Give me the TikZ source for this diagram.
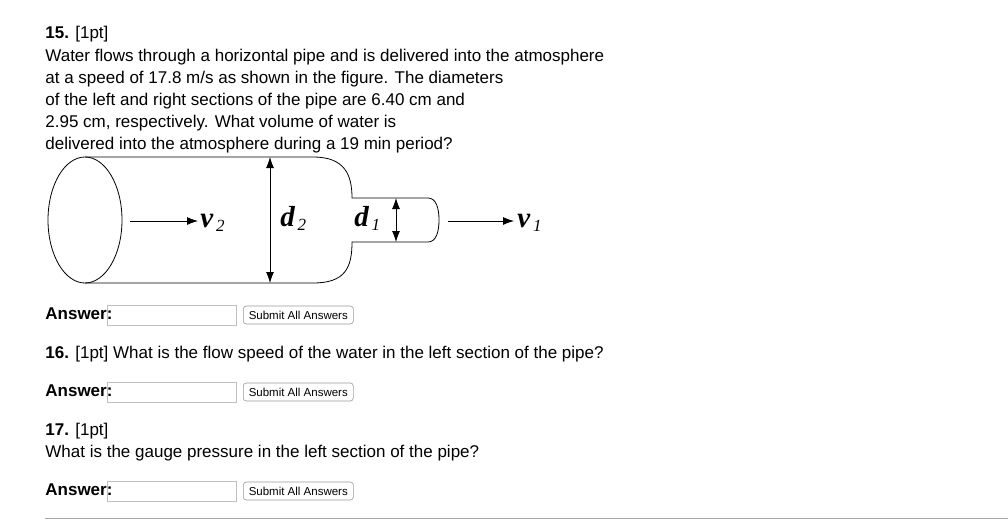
\documentclass[tikz,border=0pt]{standalone}
\usepackage{fontspec}
\setmainfont{Liberation Sans}
\newfontfamily\tms{Liberation Serif}
\usetikzlibrary{arrows.meta}
\begin{document}
\begin{tikzpicture}[x=1pt,y=-1pt,line width=0.8pt,
  txt/.style={anchor=base west,inner sep=0pt,font=\fontsize{17}{19}\selectfont},
  ansbox/.style={draw=black!25,line width=0.6pt,minimum width=129pt,minimum height=20pt,inner sep=0pt,anchor=west},
  btn/.style={draw=black!40,line width=0.6pt,rounded corners=3pt,minimum width=110pt,minimum height=18pt,inner sep=0pt,anchor=west,font=\fontsize{11.5}{13}\selectfont},
  lbl/.style={inner sep=0pt,font=\tms\fontsize{29}{30}\selectfont\bfseries\itshape},
  arr/.style={-{Latex[length=11pt,width=8pt]}},
  darr/.style={{Latex[length=11pt,width=8pt]}-{Latex[length=11pt,width=8pt]}}]
\useasboundingbox (0,0) rectangle (1008,527);
\node[txt] (q15) at (45,39) {\textbf{15.} [1pt]};
\node[txt] (t1) at (45,61) {Water flows through a horizontal pipe and is delivered into the atmosphere};
\node[txt] (t2) at (45,83) {at a speed of 17.8 m/s as shown in the figure. The diameters};
\node[txt] (t3) at (45,105) {of the left and right sections of the pipe are 6.40 cm and};
\node[txt] (t4) at (45,127) {2.95 cm, respectively. What volume of water is};
\node[txt] (t5) at (45,149) {delivered into the atmosphere during a 19 min period?};
% pipe
\draw (85,220) ellipse (37 and 63);
\draw (85,157) -- (313,157) .. controls (345,157) and (352,175) .. (352,198) -- (428,198)
      .. controls (436,198) and (439,208) .. (439,220) .. controls (439,232) and (436,242) .. (428,242)
      -- (352,242) .. controls (352,268) and (345,283) .. (313,283) -- (85,283);
\coordinate (d2t) at (270,157); \coordinate (d2b) at (270,283);
\draw[darr] (d2t) -- (d2b);
\coordinate (d1t) at (396,198); \coordinate (d1b) at (396,242);
\draw[darr] (d1t) -- (d1b);
\coordinate (v2s) at (130,221); \coordinate (v2e) at (198,221);
\draw[arr] (v2s) -- (v2e);
\coordinate (v1s) at (448,221); \coordinate (v1e) at (514,221);
\draw[arr] (v1s) -- (v1e);
\node[lbl,anchor=base west] (v2) at (200,227) {v\textmd{\fontsize{17}{17}\selectfont\raisebox{-4pt}{\,2}}};
\node[lbl,anchor=base west] (d2) at (280,226) {d\textmd{\fontsize{17}{17}\selectfont\raisebox{-4pt}{\,2}}};
\node[lbl,anchor=base west] (d1) at (354,226) {d\textmd{\fontsize{17}{17}\selectfont\raisebox{-4pt}{\,\itshape 1}}};
\node[lbl,anchor=base west] (v1) at (517,227) {v\textmd{\fontsize{17}{17}\selectfont\raisebox{-4pt}{\,\itshape 1}}};
% answers
\node[txt] (a1) at (45,319) {\textbf{Answer:}};
\node[ansbox] (b1) at (107,315) {};
\node[btn] (s1) at (243,315) {Submit All Answers};
\node[txt] (q16) at (45,358) {\textbf{16.} [1pt] What is the flow speed of the water in the left section of the pipe?};
\node[txt] (a2) at (45,396) {\textbf{Answer:}};
\node[ansbox] (b2) at (107,392) {};
\node[btn] (s2) at (243,392) {Submit All Answers};
\node[txt] (q17) at (45,435) {\textbf{17.} [1pt]};
\node[txt] (t6) at (45,457) {What is the gauge pressure in the left section of the pipe?};
\node[txt] (a3) at (45,495) {\textbf{Answer:}};
\node[ansbox] (b3) at (107,491) {};
\node[btn] (s3) at (243,491) {Submit All Answers};
\draw[black!35,line width=1pt] (45,518) -- (1008,518);
\end{tikzpicture}
\end{document}
